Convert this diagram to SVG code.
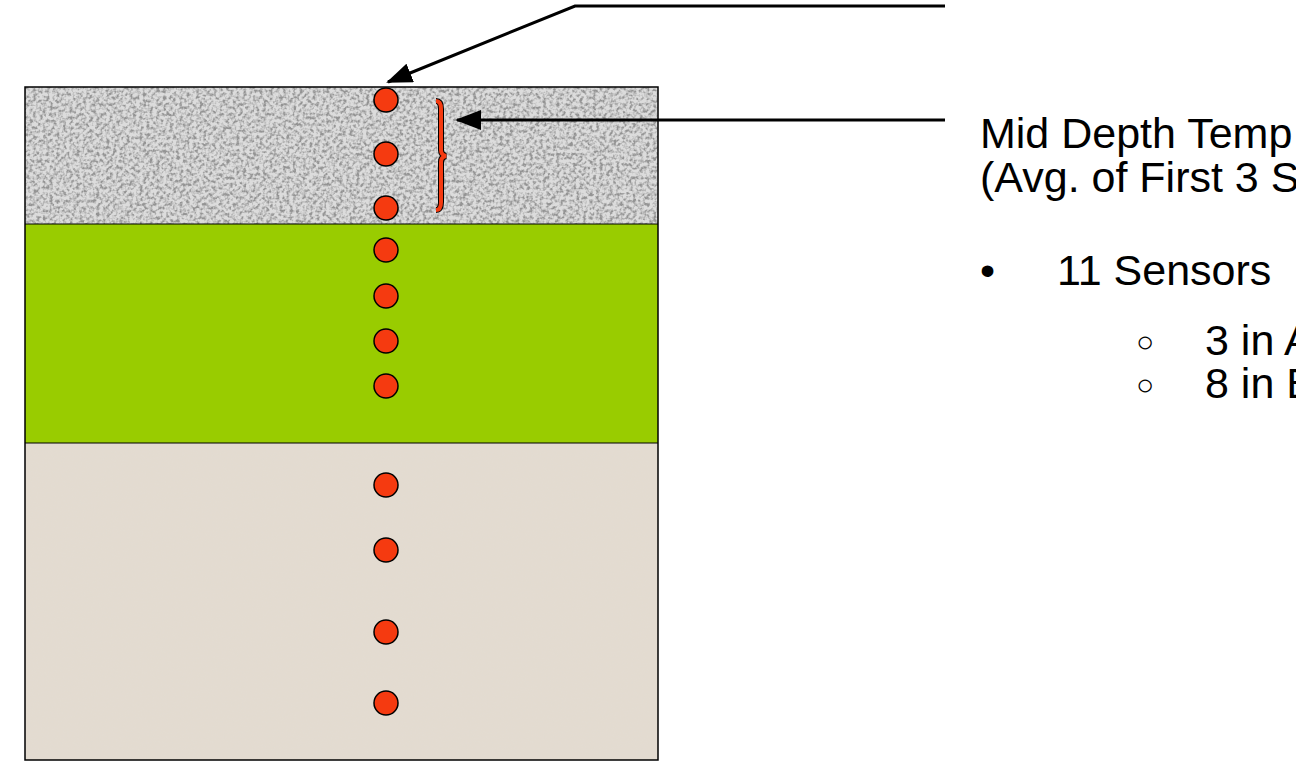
<svg xmlns="http://www.w3.org/2000/svg" width="1296" height="764" viewBox="0 0 1296 764">
<style>
.t{font-family:"Liberation Sans",Arial,sans-serif;font-size:43px;fill:#000}
.b{font-family:"Liberation Sans",Arial,sans-serif;font-size:30px;fill:#000}
.dot{fill:#f53a10;stroke:#000;stroke-width:1.5}
.ln{stroke:#000;stroke-width:3;fill:none}
</style>
<defs>
<filter id="gn" x="0" y="0" width="1" height="1">
<feTurbulence type="fractalNoise" baseFrequency="0.3" numOctaves="2" seed="2" result="n"/>
<feColorMatrix in="n" type="matrix" values="0 0 0 0 0.3 0 0 0 0 0.3 0 0 0 0 0.3 3.2 0 0 0 -1.3" result="c"/>
<feComposite in="c" in2="SourceGraphic" operator="in" result="m"/>
<feMerge><feMergeNode in="SourceGraphic"/><feMergeNode in="m"/></feMerge>
</filter>
<filter id="sand" x="0" y="0" width="1" height="1">
<feTurbulence type="fractalNoise" baseFrequency="0.8" numOctaves="2" seed="7" result="n"/>
<feColorMatrix in="n" type="matrix" values="0 0 0 0 0.75 0 0 0 0 0.72 0 0 0 0 0.66 0.6 0 0 0 -0.2" result="c"/>
<feComposite in="c" in2="SourceGraphic" operator="in" result="m"/>
<feMerge><feMergeNode in="SourceGraphic"/><feMergeNode in="m"/></feMerge>
</filter>
<marker id="ah2" markerWidth="26" markerHeight="20" refX="24" refY="10" orient="auto" markerUnits="userSpaceOnUse"><path d="M0,0 L26,10 L0,20 z" fill="#000"/></marker>
</defs>
<g id="layers">
<rect x="25" y="87" width="633" height="137" fill="#dcdcdc" filter="url(#gn)"/>
<rect x="25" y="224" width="633" height="219" fill="#99cc00"/>
<rect x="25" y="443" width="633" height="317" fill="#e3dbd0" filter="url(#sand)"/>
<rect x="25" y="87" width="633" height="673" fill="none" stroke="#000" stroke-width="1.5"/>
<line x1="25" y1="224" x2="658" y2="224" stroke="#000" stroke-width="1.2"/>
<line x1="25" y1="443" x2="658" y2="443" stroke="#000" stroke-width="1.2"/>
</g>
<g id="sensors">
<circle class="dot" cx="386" cy="100" r="12"/>
<circle class="dot" cx="386" cy="154" r="12"/>
<circle class="dot" cx="386" cy="208" r="12"/>
<circle class="dot" cx="386" cy="250" r="12"/>
<circle class="dot" cx="386" cy="296" r="12"/>
<circle class="dot" cx="386" cy="341" r="12"/>
<circle class="dot" cx="386" cy="386" r="12"/>
<circle class="dot" cx="386" cy="485" r="12"/>
<circle class="dot" cx="386" cy="550" r="12"/>
<circle class="dot" cx="386" cy="632" r="12"/>
<circle class="dot" cx="386" cy="703" r="12"/>
</g>
<g id="brace">
<path d="M436,101 Q441,101 441,109 L441,150 Q441,155 446,156 Q441,157 441,162 L441,202 Q441,210 436,210" fill="none" stroke="#000" stroke-width="6"/>
<path d="M436,101 Q441,101 441,109 L441,150 Q441,155 446,156 Q441,157 441,162 L441,202 Q441,210 436,210" fill="none" stroke="#f53a10" stroke-width="4"/>
</g>
<g id="connectors">
<polyline class="ln" points="945,6 575,6 388,82" marker-end="url(#ah2)"/>
<line class="ln" x1="945" y1="120" x2="457" y2="120" marker-end="url(#ah2)"/>
</g>
<g id="labels">
<text class="t" x="980" y="148">Mid Depth Temp</text>
<text class="t" x="980" y="192">(Avg. of First 3 S</text>
<text class="t" x="980" y="285">•</text>
<text class="t" x="1057" y="285">11 Sensors</text>
<text class="b" x="1136" y="352">○</text>
<text class="t" x="1205" y="355">3 in A</text>
<text class="b" x="1136" y="395">○</text>
<text class="t" x="1205" y="398">8 in B</text>
</g>
</svg>
